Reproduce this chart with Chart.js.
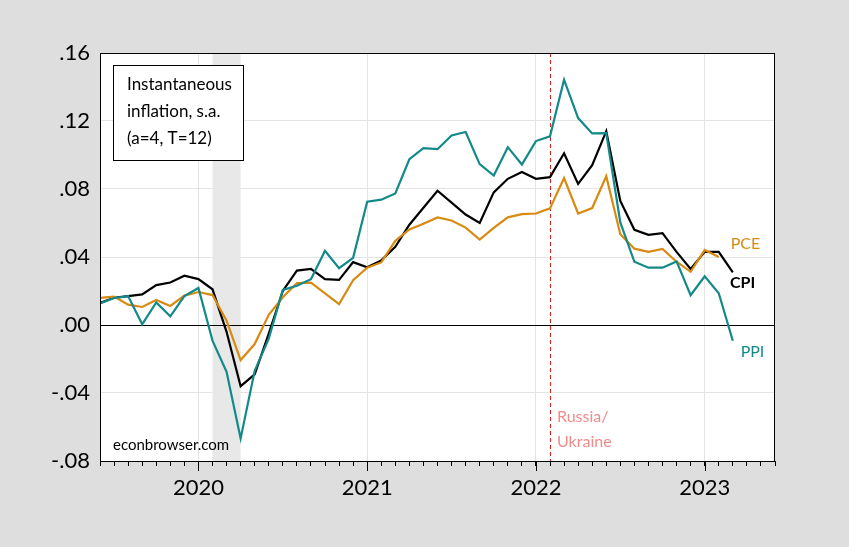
<!DOCTYPE html>
<html>
<head>
<meta charset="utf-8">
<script src="https://cdn.jsdelivr.net/npm/chart.js@4/dist/chart.umd.min.js"></script>
<style>
  html, body { margin: 0; padding: 0; background: #dedede; }
  canvas { display: block; }
</style>
</head>
<body>
<canvas id="inflChart" width="849" height="547"></canvas>
<script>
// months counted from Jun 2019 (index 0) to Jun 2023 (index 48)
const firstYear = 2019;
const firstMonth = 6;
const lastIndex = 48;
const yearLabels = ['2020', '2021', '2022', '2023'];
const yTicks = [-0.08, -0.04, 0.00, 0.04, 0.08, 0.12, 0.16];

// instantaneous inflation, monthly
const cpi = [0.013, 0.016, 0.017, 0.018, 0.0235, 0.025, 0.029, 0.027, 0.021, -0.004,
  -0.036, -0.029, -0.005, 0.020, 0.032, 0.033, 0.027, 0.0265, 0.037, 0.034,
  0.038, 0.046, 0.059, 0.069, 0.079, 0.072, 0.065, 0.060, 0.078, 0.086,
  0.090, 0.086, 0.087, 0.101, 0.083, 0.094, 0.114, 0.073, 0.056, 0.053,
  0.054, 0.043, 0.033, 0.043, 0.043, 0.031];
const pce = [0.016, 0.0167, 0.012, 0.0106, 0.0147, 0.0112, 0.0173, 0.0194, 0.0176, 0.0025,
  -0.0206, -0.0112, 0.006, 0.0163, 0.0247, 0.0249, 0.0186, 0.0123, 0.0263, 0.0337,
  0.0368, 0.0495, 0.0562, 0.0595, 0.0633, 0.0615, 0.0573, 0.0502, 0.0571, 0.0633,
  0.0652, 0.0656, 0.0686, 0.0864, 0.0656, 0.0688, 0.0875, 0.0534, 0.0449, 0.043,
  0.0447, 0.0372, 0.0313, 0.0441, 0.040];
const ppi = [0.0127, 0.0159, 0.017, 0.0004, 0.0133, 0.0051, 0.017, 0.0218, -0.0092, -0.0275,
  -0.0667, -0.0269, -0.008, 0.0206, 0.0231, 0.0269, 0.0437, 0.0334, 0.0395, 0.0725,
  0.0737, 0.0774, 0.0975, 0.104, 0.1034, 0.1115, 0.1135, 0.0946, 0.0879, 0.1046,
  0.0944, 0.1082, 0.111, 0.1443, 0.1217, 0.1127, 0.1129, 0.0603, 0.0372, 0.0337,
  0.0337, 0.0374, 0.0175, 0.0286, 0.0187, -0.0093];

// recession Feb 2020 - Apr 2020, invasion Feb 2022
const recessionStart = 8;
const recessionEnd = 10;
const invasionIndex = 32;

const FONT = 'Lato, "Open Sans", sans-serif';
const colCPI = '#000000';
const colPCE = '#d98a12';
const colPPI = '#13898a';

function toPoints(arr) {
  return arr.map(function(v, i) { return { x: i, y: v }; });
}

function isJanuary(i) {
  return (firstMonth - 1 + i) % 12 === 0;
}

function yearLabel(i) {
  const y = firstYear + Math.floor((firstMonth - 1 + i) / 12);
  const s = String(y);
  return yearLabels.indexOf(s) >= 0 ? s : '';
}

function fmtY(v) {
  const r = Math.round(v * 100) / 100;
  const s = Math.abs(r).toFixed(2).replace(/^0/, '');
  return (r < 0 ? '-' : '') + s;
}

// white plot area, shading, event line, longer year ticks, frame and text
const extras = {
  id: 'extras',
  beforeDraw(chart) {
    const { ctx, chartArea: a } = chart;
    ctx.save();
    ctx.fillStyle = '#fff';
    ctx.fillRect(a.left, a.top, a.right - a.left, a.bottom - a.top);
    ctx.restore();
  },
  beforeDatasetsDraw(chart) {
    const { ctx, chartArea: a, scales: { x, y } } = chart;
    ctx.save();
    ctx.fillStyle = '#e8e8e8';
    const x0 = x.getPixelForValue(recessionStart);
    const x1 = x.getPixelForValue(recessionEnd);
    ctx.fillRect(x0, a.top, x1 - x0, a.bottom - a.top);
    // redraw zero line over shading
    ctx.strokeStyle = '#000';
    ctx.lineWidth = 1;
    const z = Math.round(y.getPixelForValue(0)) + 0.5;
    ctx.beginPath();
    ctx.moveTo(a.left, z);
    ctx.lineTo(a.right, z);
    ctx.stroke();
    // invasion
    const xi = Math.round(x.getPixelForValue(invasionIndex)) + 0.5;
    ctx.strokeStyle = '#d62020';
    ctx.setLineDash([4, 3]);
    ctx.beginPath();
    ctx.moveTo(xi, a.top);
    ctx.lineTo(xi, a.bottom);
    ctx.stroke();
    ctx.restore();
  },
  afterDraw(chart) {
    const { ctx, chartArea: a, scales: { x, y } } = chart;
    ctx.save();
    // frame
    ctx.strokeStyle = '#000';
    ctx.lineWidth = 1;
    ctx.strokeRect(a.left + 0.5, a.top + 0.5, a.right - a.left - 1, a.bottom - a.top);
    // year ticks
    for (let i = 0; i <= lastIndex; i++) {
      if (!isJanuary(i)) continue;
      const px = Math.round(x.getPixelForValue(i)) + 0.5;
      ctx.beginPath();
      ctx.moveTo(px, a.bottom);
      ctx.lineTo(px, a.bottom + 10);
      ctx.stroke();
    }
    // text box
    ctx.fillStyle = '#fff';
    ctx.fillRect(a.left + 13, a.top + 12, 130, 95);
    ctx.strokeRect(a.left + 13.5, a.top + 12.5, 130, 95);
    ctx.fillStyle = '#000';
    ctx.font = '17px ' + FONT;
    ctx.textBaseline = 'middle';
    ctx.textAlign = 'left';
    ctx.fillText('Instantaneous', a.left + 27, a.top + 32);
    ctx.fillText('inflation, s.a.', a.left + 27, a.top + 59);
    ctx.fillText('(a=4, T=12)', a.left + 27, a.top + 86);
    ctx.font = '15px ' + FONT;
    ctx.fillText('econbrowser.com', a.left + 13, a.bottom - 16);
    // event text
    ctx.fillStyle = '#f28a8a';
    ctx.font = '16px ' + FONT;
    ctx.fillText('Russia/', x.getPixelForValue(invasionIndex) + 7, a.bottom - 44);
    ctx.fillText('Ukraine', x.getPixelForValue(invasionIndex) + 7, a.bottom - 19);
    // series labels
    ctx.textAlign = 'center';
    ctx.fillStyle = colPCE;
    ctx.font = '16px ' + FONT;
    ctx.fillText('PCE', x.getPixelForValue(45.9), y.getPixelForValue(0.0476));
    ctx.fillStyle = colCPI;
    ctx.font = 'bold 16px ' + FONT;
    ctx.fillText('CPI', x.getPixelForValue(45.7), y.getPixelForValue(0.0247));
    ctx.fillStyle = colPPI;
    ctx.font = '16px ' + FONT;
    ctx.fillText('PPI', x.getPixelForValue(46.4), y.getPixelForValue(-0.0159));
    ctx.restore();
  }
};

new Chart(document.getElementById('inflChart').getContext('2d'), {
  type: 'line',
  data: {
    datasets: [
      { label: 'PPI', data: toPoints(ppi), borderColor: colPPI, borderWidth: 2.2, pointRadius: 0, tension: 0 },
      { label: 'PCE', data: toPoints(pce), borderColor: colPCE, borderWidth: 2.2, pointRadius: 0, tension: 0 },
      { label: 'CPI', data: toPoints(cpi), borderColor: colCPI, borderWidth: 2.2, pointRadius: 0, tension: 0 }
    ]
  },
  options: {
    responsive: false,
    animation: false,
    devicePixelRatio: 1,
    layout: { padding: { left: 0, right: 74, top: 53, bottom: 0 } },
    plugins: { legend: { display: false }, tooltip: { enabled: false } },
    scales: {
      x: {
        type: 'linear',
        min: 0,
        max: lastIndex,
        afterFit(scale) { scale.height = 86; },
        border: { color: '#000' },
        grid: {
          color: function(c) { return isJanuary(c.tick.value) ? '#e4e4e4' : 'rgba(0,0,0,0)'; },
          tickColor: '#000',
          tickLength: 5
        },
        ticks: {
          stepSize: 1,
          autoSkip: false,
          maxRotation: 0,
          padding: 9,
          color: '#000',
          font: { family: FONT, size: 22 },
          callback: function(v) { return isJanuary(v) ? yearLabel(v) : ''; }
        }
      },
      y: {
        min: yTicks[0],
        max: yTicks[yTicks.length - 1],
        afterFit(scale) { scale.width = 100; },
        afterBuildTicks(scale) { scale.ticks = yTicks.map(function(v) { return { value: v }; }); },
        border: { color: '#000' },
        grid: {
          drawTicks: false,
          color: function(c) { return c.tick.value === 0 ? '#000' : '#e4e4e4'; }
        },
        ticks: {
          padding: 10,
          color: '#000',
          font: { family: FONT, size: 22 },
          callback: function(v) { return fmtY(v); }
        }
      }
    }
  },
  plugins: [extras]
});
</script>
</body>
</html>
